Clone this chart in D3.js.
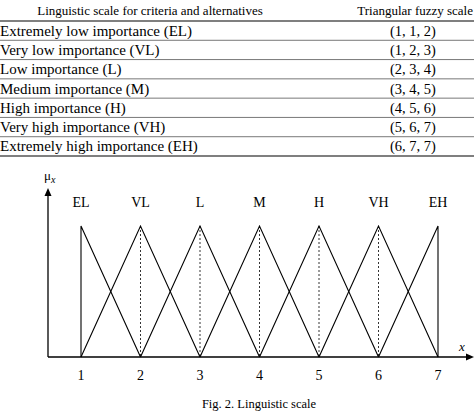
<!DOCTYPE html>
<html><head><meta charset="utf-8">
<script src="https://cdn.jsdelivr.net/npm/d3@7"></script>
<style>body{margin:0;background:#fff}svg{display:block;font-family:"Liberation Serif",serif}</style>
</head><body><svg width="474" height="413"></svg>
<script>
// table data
const scaleNames = ["Extremely low importance (EL)", "Very low importance (VL)", "Low importance (L)",
    "Medium importance (M)", "High importance (H)", "Very high importance (VH)", "Extremely high importance (EH)"];
const fuzzy = [[1, 1, 2], [1, 2, 3], [2, 3, 4], [3, 4, 5], [4, 5, 6], [5, 6, 7], [6, 7, 7]];
const abbrev = ["EL", "VL", "L", "M", "H", "VH", "EH"];
const xTicks = [1, 2, 3, 4, 5, 6, 7];

const svg = d3.select("svg");

// --- table
const rowY = d3.scaleLinear().domain([0, 7]).range([21, 156]);
svg.append("text").attr("x", 150).attr("y", 15).attr("text-anchor", "middle")
    .attr("font-size", 13).text("Linguistic scale for criteria and alternatives");
svg.append("text").attr("x", 473).attr("y", 15).attr("text-anchor", "end")
    .attr("font-size", 13).text("Triangular fuzzy scale");
d3.range(8).forEach(i => {
    svg.append("line").attr("x1", 0).attr("x2", 474)
        .attr("y1", rowY(i)).attr("y2", rowY(i))
        .attr("stroke", "#555").attr("stroke-width", i === 0 || i === 7 ? 1.5 : 0.8);
});
scaleNames.forEach((n, i) => {
    const y = (rowY(i) + rowY(i + 1)) / 2 + 5;
    svg.append("text").attr("x", 0).attr("y", y).attr("font-size", 15).text(n);
    svg.append("text").attr("x", 413).attr("y", y).attr("text-anchor", "middle")
        .attr("font-size", 14.5).text("(" + fuzzy[i].join(", ") + ")");
});

// --- membership chart
const x = d3.scaleLinear().domain([1, 7]).range([81, 438]);
const y = d3.scaleLinear().domain([0, 1]).range([357, 226]);
const g = svg.append("g");

// axes
g.append("line").attr("x1", 48).attr("x2", 468).attr("y1", y(0)).attr("y2", y(0)).attr("stroke", "#000").attr("stroke-width", 1.3);
g.append("path").attr("d", "M474,357 L466,353.5 L466,360.5Z").attr("fill", "#000");
g.append("line").attr("x1", 48).attr("x2", 48).attr("y1", y(0)).attr("y2", 195).attr("stroke", "#000").attr("stroke-width", 1.3);
g.append("path").attr("d", "M48,188 L44.5,196 L51.5,196Z").attr("fill", "#000");
g.append("text").attr("x", 44).attr("y", 180).attr("font-size", 13).text("μ")
    .append("tspan").attr("font-size", 10).attr("font-style", "italic").attr("dy", 3).text("x");
g.append("text").attr("x", 459).attr("y", 351).attr("font-size", 13).attr("font-style", "italic").text("x");

// triangles
const line = d3.line().x(d => x(d[0])).y(d => y(d[1]));
fuzzy.forEach(([a, b, c]) => {
    g.append("path").attr("d", line([[a, 0], [b, 1], [c, 0]]))
        .attr("fill", "none").attr("stroke", "#000").attr("stroke-width", 1.1);
});
// dotted centre lines
fuzzy.filter(f => f[0] !== f[1] && f[1] !== f[2]).forEach(f => {
    g.append("line").attr("x1", x(f[1])).attr("x2", x(f[1])).attr("y1", y(1)).attr("y2", y(0))
        .attr("stroke", "#000").attr("stroke-width", 0.8).attr("stroke-dasharray", "2,2");
});

// labels
abbrev.forEach((t, i) => {
    g.append("text").attr("x", x(xTicks[i])).attr("y", 207).attr("text-anchor", "middle")
        .attr("font-size", 14).text(t);
});
xTicks.forEach(t => {
    g.append("text").attr("x", x(t)).attr("y", 380).attr("text-anchor", "middle")
        .attr("font-size", 14).text(t);
});
svg.append("text").attr("x", 259).attr("y", 408).attr("text-anchor", "middle")
    .attr("font-size", 12.5).text("Fig. 2. Linguistic scale");
</script></body></html>
